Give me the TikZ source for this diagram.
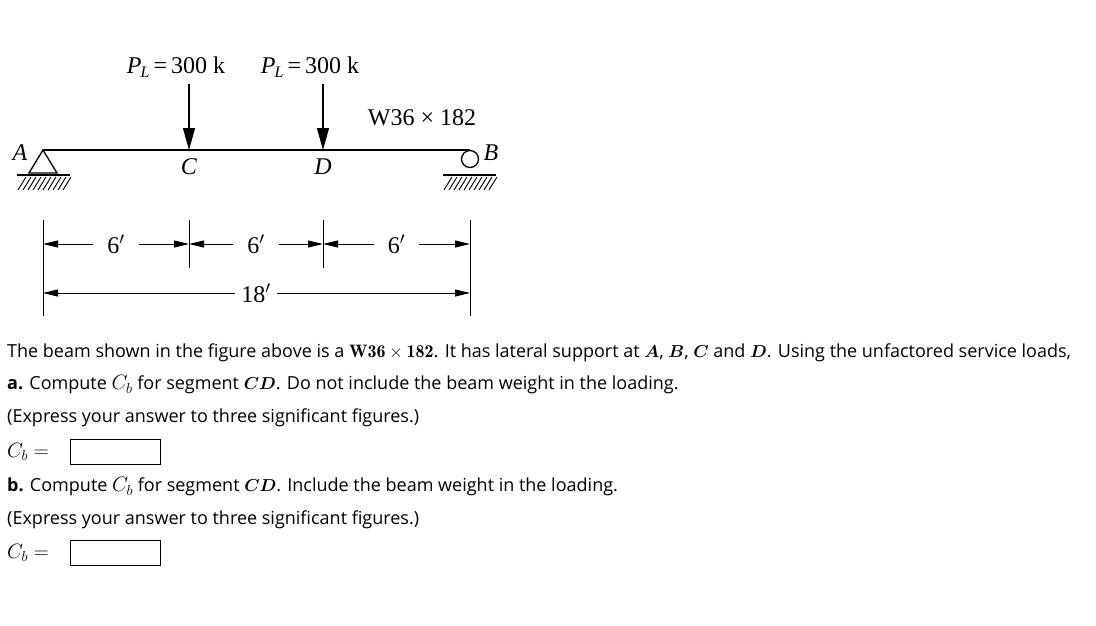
\documentclass[tikz,border=0pt]{standalone}
\usepackage{amsmath}
\usepackage{fontspec}
\newfontfamily\os{Open Sans}
\newfontfamily\tms{Liberation Serif}
\usetikzlibrary{arrows.meta}
\newcommand{\PL}{{\itshape P}\kern-1pt\raisebox{-0.35ex}{\fontsize{16}{18}\selectfont\itshape L}\,=\,300 k}
\begin{document}
\begin{tikzpicture}[x=1pt,y=-1pt,
  lbl/.style={font=\tms\fontsize{24}{28}\selectfont,inner sep=0},
  ilbl/.style={font=\tms\itshape\fontsize{24}{28}\selectfont,inner sep=0},
  txt/.style={font=\os\fontsize{18}{22}\selectfont,anchor=west,inner sep=0},
  cb/.style={font=\fontsize{21}{24}\selectfont,anchor=west,inner sep=0},
  dim/.style={-{Triangle[length=15pt,width=7pt]},line width=0.8pt},
  ld/.style={-{Triangle[length=22pt,width=12pt]},line width=1.2pt},
  ans/.style={draw,line width=0.8pt,minimum width=90pt,minimum height=25pt,anchor=west,inner sep=0}]
\useasboundingbox (0,0) rectangle (1096,625);
% beam
\coordinate (A) at (43,150); \coordinate (B) at (470,150);
\coordinate (C) at (189,150); \coordinate (D) at (323,150);
\draw[line width=1.5pt] (A) -- (B);
% support A
\draw[line width=1.3pt] (A) -- (29,173) -- (57,173) -- cycle;
\draw[line width=1.2pt] (17,175) -- (70,175);
\foreach \x in {18,23,...,66} \draw[line width=0.9pt] (\x,190) -- (\x+8,177);
% support B
\draw[line width=1.3pt] (470,159) circle (8.5);
\draw[line width=1.2pt] (443,175) -- (496,175);
\foreach \x in {444,449,...,492} \draw[line width=0.9pt] (\x,190) -- (\x+8,177);
% loads
\coordinate (c0) at (189,84); \coordinate (d0) at (323,84);
\draw[ld] (c0) -- (C); \draw[ld] (d0) -- (D);
\node[lbl] (pl1) at (176,67) {\PL};
\node[lbl] (pl2) at (310,67) {\PL};
\node[lbl] (w) at (422,118) {W36 × 182};
\node[ilbl] (la) at (20,153) {A};
\node[ilbl] (lb) at (491,153) {B};
\node[ilbl] (lc) at (189,167) {C};
\node[ilbl] (lD) at (323,167) {D};
% dimension lines
\draw[line width=0.8pt] (43,220) -- (43,316);
\draw[line width=0.8pt] (470,220) -- (470,316);
\draw[line width=0.8pt] (189,220) -- (189,268);
\draw[line width=0.8pt] (323,220) -- (323,268);
\foreach \a/\b/\n in {43/189/d1,189/323/d2,323/470/d3}{
  \node[lbl,inner xsep=14pt] (\n) at ({(\a+\b)/2},244) {6$'$};
  \draw[dim] (\n.west) -- (\a,244);
  \draw[dim] (\n.east) -- (\b,244);
}
\node[lbl,inner xsep=6pt] (d4) at (256,293) {18$'$};
\draw[dim] (d4.west) -- (43,293);
\draw[dim] (d4.east) -- (470,293);
% text
\node[txt] (t1) at (7,353) {The beam shown in the figure above is a $\mathbf{W36\times 182}$. It has lateral support at $\boldsymbol{A}$, $\boldsymbol{B}$, $\boldsymbol{C}$ and $\boldsymbol{D}$. Using the unfactored service loads,};
\node[txt] (t2) at (7,385) {\textbf{a.} Compute {\fontsize{21}{24}\selectfont$C_b$} for segment $\boldsymbol{CD}$. Do not include the beam weight in the loading.};
\node[txt] (t3) at (7,418) {(Express your answer to three significant figures.)};
\node[cb] (t4) at (7,452) {$C_b=$};
\node[ans] (b1) at (70,452) {};
\node[txt] (t5) at (7,487) {\textbf{b.} Compute {\fontsize{21}{24}\selectfont$C_b$} for segment $\boldsymbol{CD}$. Include the beam weight in the loading.};
\node[txt] (t6) at (7,520) {(Express your answer to three significant figures.)};
\node[cb] (t7) at (7,553) {$C_b=$};
\node[ans] (b2) at (70,553) {};
\end{tikzpicture}
\end{document}
